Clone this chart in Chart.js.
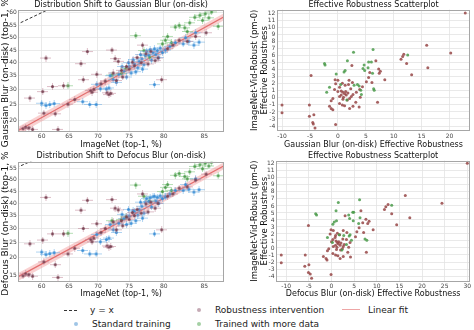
<!DOCTYPE html>
<html>
<head>
<meta charset="utf-8">
<script src="https://cdn.jsdelivr.net/npm/chart.js@4.4.1/dist/chart.umd.min.js"></script>
<style>
  body { margin: 0; background: #fff; width: 474px; height: 330px; position: relative; overflow: hidden;
         font-family: "DejaVu Sans", sans-serif; }
  canvas { position: absolute; }
  .lg { position: absolute; font-size: 9px; color: #222; line-height: 1; white-space: nowrap; transform: translateY(-50%); }
  .dot { position: absolute; width: 4px; height: 4px; border-radius: 50%; transform: translate(-50%, -50%); }
  .ln { position: absolute; height: 0; }
</style>
</head>
<body>
<canvas id="gaussShift" width="230" height="150" style="left:0;top:0"></canvas>
<canvas id="gaussEr" width="234" height="150" style="left:240px;top:0"></canvas>
<canvas id="defocusShift" width="230" height="148" style="left:0;top:151px"></canvas>
<canvas id="defocusEr" width="234" height="148" style="left:240px;top:151px"></canvas>

<div class="ln" style="left:64px;top:310px;width:13px;border-top:1px dashed #333"></div>
<div class="lg" style="left:90px;top:310px">y = x</div>
<div class="dot" style="left:199px;top:310px;background:rgba(150,100,120,0.55)"></div>
<div class="lg" style="left:215px;top:310px">Robustness intervention</div>
<div class="ln" style="left:342px;top:309px;width:18px;border-top:1.5px solid rgba(235,150,150,0.85)"></div>
<div class="lg" style="left:368px;top:310px">Linear fit</div>
<div class="dot" style="left:76px;top:324px;background:rgba(80,150,210,0.55)"></div>
<div class="lg" style="left:92px;top:324px">Standard training</div>
<div class="dot" style="left:199px;top:324px;background:rgba(90,170,90,0.55)"></div>
<div class="lg" style="left:215px;top:324px">Trained with more data</div>

<script>
// ImageNet top-1 (%) and accuracy under each blur shift, per model group
const imagenetStandard = [60.0, 60.8, 61.5, 62.3, 67.4, 68.6, 69.7, 69.8, 70.4, 71.4, 71.8, 72.5, 73.4, 74.2, 74.6, 75.0, 75.3, 75.8, 76.3, 76.5, 76.9, 77.2, 77.4, 77.6, 77.9, 78.1, 78.3, 78.5, 78.7, 78.9, 79.1, 79.3, 79.5, 79.8, 78.7, 80.2, 76.0, 74.9, 73.9, 82.5, 83.2, 83.8, 84.4, 84.0, 82.8, 81.5, 75.6, 76.7, 77.0, 72.0, 73.0, 80.8];
const gaussStandard = [25.3, 24.6, 24.9, 25.2, 25.8, 24.9, 24.9, 31.8, 30.2, 30.1, 30.5, 33.5, 35.5, 36.8, 34.5, 38.5, 36.0, 39.5, 38.0, 40.5, 41.5, 39.2, 42.8, 44.5, 43.0, 45.2, 41.0, 44.0, 45.5, 43.2, 44.8, 42.0, 45.8, 44.0, 31.7, 45.0, 36.5, 40.0, 38.5, 47.5, 48.5, 47.0, 48.2, 52.0, 50.0, 48.0, 41.2, 43.2, 37.5, 35.0, 32.5, 46.5];
const defocusStandard = [21.8, 21.0, 21.3, 21.6, 22.3, 21.2, 21.2, 27.8, 25.2, 26.0, 26.5, 29.5, 32.0, 33.8, 31.5, 34.8, 32.0, 36.5, 35.2, 37.5, 38.8, 36.0, 40.5, 42.0, 40.8, 42.5, 38.5, 42.8, 43.0, 41.0, 42.5, 40.0, 43.2, 42.0, 28.0, 42.8, 33.0, 37.5, 35.5, 45.5, 46.0, 44.8, 45.8, 50.5, 48.0, 45.5, 37.0, 40.5, 34.0, 31.5, 28.5, 44.0];

const imagenetIntervention = [56.5, 57.0, 57.6, 58.3, 57.8, 60.8, 60.2, 60.4, 62.0, 64.0, 63.0, 64.8, 67.1, 68.2, 67.5, 68.8, 69.3, 69.8, 72.3, 72.8, 73.3, 71.5, 71.8, 72.1, 71.2, 72.5, 73.8, 74.6, 75.5, 76.2, 77.0, 77.5, 78.2, 79.7, 79.2, 80.5, 81.2, 82.0, 83.0, 84.0, 74.0, 75.0, 76.8, 78.8, 70.5, 73.0, 85.2, 66.0, 62.5, 69.0, 75.8, 77.8];
const gaussIntervention = [17.8, 18.2, 18.0, 17.6, 27.0, 41.8, 29.2, 22.2, 31.0, 31.3, 17.6, 25.0, 39.6, 44.4, 33.5, 29.6, 30.0, 35.5, 45.0, 41.6, 40.5, 28.8, 28.2, 28.6, 33.0, 36.0, 37.0, 38.5, 40.2, 42.0, 47.0, 43.5, 44.5, 33.5, 41.8, 45.5, 47.0, 49.0, 48.5, 50.5, 34.5, 37.5, 40.0, 40.8, 32.0, 33.2, 52.0, 26.5, 22.0, 29.0, 38.8, 39.5];
const defocusIntervention = [15.0, 15.5, 15.3, 14.9, 24.5, 42.5, 25.8, 18.8, 28.0, 28.0, 14.6, 21.2, 37.2, 41.3, 30.0, 26.0, 26.5, 31.8, 41.6, 38.0, 37.3, 23.8, 23.4, 23.6, 30.0, 32.5, 33.0, 34.5, 36.2, 37.5, 44.0, 39.8, 40.5, 29.5, 40.0, 43.0, 44.0, 46.5, 47.0, 50.0, 31.0, 33.5, 36.0, 38.0, 28.5, 29.5, 52.5, 23.0, 18.0, 25.2, 35.0, 36.5];

const imagenetMoreData = [64.8, 72.3, 76.0, 80.5, 81.5, 82.0, 82.7, 83.3, 83.9, 84.5, 85.1, 85.8, 84.8, 86.5, 79.8, 80.2, 81.0, 78.0, 74.5, 73.8, 83.0, 85.5, 77.2];
const gaussMoreData = [31.3, 35.2, 50.8, 50.5, 54.3, 55.0, 54.0, 56.0, 58.2, 59.0, 59.6, 60.3, 57.0, 54.6, 47.5, 49.0, 48.0, 42.2, 37.8, 35.8, 52.5, 58.0, 44.8];
const defocusMoreData = [28.2, 33.0, 47.8, 48.0, 52.0, 52.8, 51.5, 53.5, 55.8, 56.5, 57.2, 57.6, 54.8, 51.8, 45.0, 46.8, 45.5, 41.0, 34.5, 33.5, 50.5, 56.0, 43.0];

// linear fit (straight in probit space) and its confidence band, end points
const fitImagenet = [55.6, 87.1];
const gaussFit = [17.3, 58.4];
const gaussBandLow = [16.3, 57.0];
const gaussBandHigh = [18.3, 59.8];
const defocusFit = [14.8, 56.1];
const defocusBandLow = [13.8, 54.6];
const defocusBandHigh = [15.7, 57.6];
const identityLine = [50, 65];

// effective robustness: ImageNet-Vid-Robust (pm-0) vs each blur shift
const vidRobustIntervention = [12.1, 7.5, 6.4, 4.3, 3.3, 5.5, 5.9, 6.2, 4.9, -1.0, -2.1, -1.0, -2.6, -2.4, -3.5, -3.7, -4.3, 3.2, -3.8, 5.3, 4.1, 3.8, 3.5, 2.6, -0.6, 3.6, 2.9, 2.3, 4.6, 2.6, 2.5, 2.5, 2.2, 1.9, 2.0, 1.2, 1.5, 1.0, 0.8, 0.6, 0.4, 0.2, -0.2, -0.3, -0.1, 0.2, 0.5, -0.1, -0.4, -1.2, -1.5, -1.7, -0.8, -1.0, -1.1, -1.5, -1.2, -0.6, -1.3, 0.1, 0.1, 0.4, 0.9, 0.7, 0.9, 1.3, 0.8, 2.2, 2.1, 1.8, 1.6, 1.2];
const gaussErIntervention = [22.8, 15.9, 20.2, 16.1, 13.2, 11.3, 11.6, 11.8, 12.3, -10.0, -10.0, -5.1, -5.1, -4.3, -4.5, -4.4, -4.1, -4.8, -0.4, 6.8, 7.3, 7.6, 7.4, 8.4, 7.1, 5.7, 5.5, 5.1, 2.5, -0.5, 0.0, 2.0, 2.6, 1.9, -0.4, -0.6, 0.3, 0.6, 0.9, 1.2, 1.5, 0.3, 0.9, 1.7, 2.1, 2.4, 2.7, -0.9, -1.2, -1.5, -1.2, -0.9, 0.3, 0.8, 1.2, 2.1, 2.7, 3.2, 3.8, 4.0, 1.0, 0.6, 1.4, 1.8, 0.0, 2.3, 3.3, 6.1, 0.8, 1.3, 4.4, 3.9];
const defocusErIntervention = [30.0, 16.3, 24.4, 17.3, 14.4, 11.7, 12.0, 12.5, 13.3, -11.1, -11.1, -5.8, -5.9, -5.0, -5.1, -4.7, -4.4, -5.1, -0.1, 6.5, 7.6, 8.3, 8.0, 9.2, 7.7, 6.9, 6.1, 5.6, 3.0, -0.1, 0.4, 2.6, 3.4, 1.8, -0.3, 0.3, 0.8, 1.0, 1.3, 1.5, 1.9, 0.4, 1.1, 2.0, 2.4, 2.6, 2.8, -0.6, -0.9, -1.8, -1.2, -1.0, 0.3, 0.9, 1.4, 1.9, 2.6, 3.6, 4.2, 3.8, 1.2, 0.9, 1.6, 2.1, 0.0, 2.5, 4.1, 7.1, 1.3, 0.9, 5.3, 3.3];

const vidRobustMoreData = [4.9, 4.7, 6.5, 6.9, 5.3, 4.7, 5.1, 5.1, 4.2, 3.9, 3.7, 3.9, 3.5, 1.9, 1.7, 1.1, 1.5, 0.8, 1.3, 1.1, 6.1, -0.3, 3.4, 1.8, 4.3, 0.5, 1.9];
const gaussErMoreData = [-2.4, -2.3, 2.8, 6.3, 1.7, 4.7, 5.5, 6.0, 4.5, 4.8, 1.1, 1.3, 6.2, 3.5, 3.8, 4.1, -1.5, -2.0, 6.4, 6.5, 12.5, 1.6, -0.3, 2.9, 5.4, 4.2, 0.5];
const defocusErMoreData = [-3.5, -3.3, 1.5, 6.2, 1.0, 3.8, 4.7, 4.9, 4.0, 4.8, 0.6, 1.1, 6.0, 4.1, 3.9, 4.4, -0.9, 0.2, 7.4, 7.8, 13.3, 2.3, 0.3, 2.7, 6.3, 3.3, 1.7];

// tick labels
const imagenetTicks = [60, 65, 70, 75, 80, 85];
const gaussTicks = [20, 25, 30, 35, 40, 45, 50, 55, 60];
const defocusTicks = [15, 20, 25, 30, 35, 40, 45, 50, 55];
const gaussErTicks = [-10, -5, 0, 5, 10, 15, 20];
const defocusErTicks = [-10, -5, 0, 5, 10, 15, 20, 25, 30];
const vidRobustTicks = [-4, -3, -2, -1, 0, 1, 2, 3, 4, 5, 6, 7, 8, 9, 10, 11, 12];

// inverse normal CDF (Acklam)
function probit(p) {
  const a = [-39.69683028665376, 220.9460984245205, -275.9285104469687, 138.3577518672690, -30.66479806614716, 2.506628277459239];
  const b = [-54.47609879822406, 161.5858368580409, -155.6989798598866, 66.80131188771972, -13.28068155288572];
  const c = [-0.007784894002430293, -0.3223964580411365, -2.400758277161838, -2.549732539343734, 4.374664141464968, 2.938163982698783];
  const d = [0.007784695709041462, 0.3224671290700398, 2.445134137142996, 3.754408661907416];
  if (p < 0.02425 || p > 0.97575) {
    const q = Math.sqrt(-2 * Math.log(p < 0.5 ? p : 1 - p));
    const v = (((((c[0] * q + c[1]) * q + c[2]) * q + c[3]) * q + c[4]) * q + c[5]) /
              ((((d[0] * q + d[1]) * q + d[2]) * q + d[3]) * q + 1);
    return p < 0.5 ? v : -v;
  }
  const q = p - 0.5, r = q * q;
  return (((((a[0] * r + a[1]) * r + a[2]) * r + a[3]) * r + a[4]) * r + a[5]) * q /
         (((((b[0] * r + b[1]) * r + b[2]) * r + b[3]) * r + b[4]) * r + 1);
}

function normCdf(z) {
  const t = 1 / (1 + 0.3275911 * Math.abs(z) / Math.SQRT2);
  const y = 1 - (((((1.061405429 * t - 1.453152027) * t) + 1.421413741) * t - 0.284496736) * t + 0.254829592) * t * Math.exp(-z * z / 2);
  return z >= 0 ? (1 + y) / 2 : (1 - y) / 2;
}

// percent axis spaced on the probit scale
class ProbitScale extends Chart.LinearScale {
  configure() {
    super.configure();
    this._pStart = probit(this.min / 100);
    this._pRange = probit(this.max / 100) - this._pStart;
  }
  getPixelForValue(value) {
    return this.getPixelForDecimal((probit(value / 100) - this._pStart) / this._pRange);
  }
  getValueForPixel(pixel) {
    return 100 * normCdf(this._pStart + this.getDecimalForPixel(pixel) * this._pRange);
  }
}
ProbitScale.id = 'probit';
ProbitScale.defaults = Chart.LinearScale.defaults;
Chart.register(ProbitScale);

Chart.defaults.font.family = '"DejaVu Sans", sans-serif';
Chart.defaults.color = '#222';

const frame = {
  id: 'frame',
  afterDatasetsDraw(chart) {
    const { ctx, chartArea: a } = chart;
    ctx.save();
    ctx.strokeStyle = '#a6a6a6';
    ctx.lineWidth = 1;
    ctx.strokeRect(Math.round(a.left) + 0.5, Math.round(a.top) + 0.5,
                   Math.round(a.right - a.left) - 1, Math.round(a.bottom - a.top) - 1);
    ctx.restore();
  }
};

// dot with light error bars
function crossMarker(dot, bar) {
  const c = document.createElement('canvas');
  c.width = 11;
  c.height = 7;
  const g = c.getContext('2d');
  g.strokeStyle = bar;
  g.lineWidth = 1;
  g.beginPath();
  g.moveTo(0, 3.5); g.lineTo(11, 3.5);
  g.moveTo(5.5, 0); g.lineTo(5.5, 7);
  g.stroke();
  g.fillStyle = dot;
  g.beginPath();
  g.arc(5.5, 3.5, 1.5, 0, Math.PI * 2);
  g.fill();
  return c;
}

const markers = {
  standard: crossMarker('#3d8fd6', 'rgba(110,175,230,0.55)'),
  intervention: crossMarker('#7a4656', 'rgba(190,125,145,0.5)'),
  moreData: crossMarker('#4f9d4f', 'rgba(120,195,120,0.55)')
};

const zip = (xs, ys) => xs.map((x, i) => ({ x, y: ys[i] }));
const useTicks = values => scale => { scale.ticks = values.map(v => ({ value: v })); };
const grid = { color: '#e3e3e3', lineWidth: 0.8, drawTicks: false };
const tickFont = pad => ({ font: { size: 6 }, color: '#444', padding: pad, autoSkip: false, maxRotation: 0, callback: v => String(v) });

function shiftChart(id, cfg) {
  const pts = (xs, ys, marker) => ({ data: zip(xs, ys), pointStyle: marker, pointRadius: 3, order: 1 });
  return new Chart(document.getElementById(id), {
    type: 'scatter',
    data: {
      datasets: [
        pts(imagenetIntervention, cfg.intervention, markers.intervention),
        pts(imagenetStandard, cfg.standard, markers.standard),
        pts(imagenetMoreData, cfg.moreData, markers.moreData),
        { type: 'line', data: zip(fitImagenet, cfg.fit), borderColor: '#e46f6f', borderWidth: 1.2, pointRadius: 0, order: 2 },
        { type: 'line', data: zip(fitImagenet, cfg.bandHigh), borderColor: 'rgba(0,0,0,0)', borderWidth: 0, pointRadius: 0,
          fill: '+1', backgroundColor: 'rgba(240,140,140,0.4)', order: 3 },
        { type: 'line', data: zip(fitImagenet, cfg.bandLow), borderColor: 'rgba(0,0,0,0)', borderWidth: 0, pointRadius: 0, order: 3 },
        { type: 'line', data: zip(identityLine, identityLine), borderColor: '#333', borderWidth: 1, borderDash: [3, 2], pointRadius: 0, order: 4 }
      ]
    },
    options: {
      responsive: false,
      animation: false,
      events: [],
      layout: { padding: { left: 0, right: 6, top: 0, bottom: 0 } },
      plugins: {
        legend: { display: false },
        tooltip: { enabled: false },
        title: { display: true, text: cfg.title, fullSize: false, font: { size: 8, weight: 'normal' }, color: '#111', padding: cfg.titlePad }
      },
      scales: {
        x: {
          type: 'probit', min: 55.6, max: 87.1, bounds: 'data',
          afterBuildTicks: useTicks(imagenetTicks),
          afterFit: s => { s.height = cfg.xHeight; },
          grid, border: { display: false }, ticks: tickFont(1),
          title: { display: true, text: 'ImageNet (top-1, %)', font: { size: 8 }, color: '#111', padding: 0 }
        },
        y: {
          type: 'probit', min: cfg.yMin, max: cfg.yMax, bounds: 'data',
          afterBuildTicks: useTicks(cfg.yTicks),
          afterFit: s => { s.width = 18.3; },
          grid, border: { display: false }, ticks: tickFont(1.5),
          title: { display: true, text: cfg.yTitle, font: { size: 9 }, color: '#111', padding: { top: 0.5, bottom: 0 } }
        }
      }
    },
    plugins: [frame]
  });
}

function robustnessChart(id, cfg) {
  return new Chart(document.getElementById(id), {
    type: 'scatter',
    data: {
      datasets: [
        { data: zip(cfg.moreDataX, vidRobustMoreData), backgroundColor: 'rgba(75,155,75,0.85)', pointRadius: 1.5, pointBorderWidth: 0 },
        { data: zip(cfg.interventionX, vidRobustIntervention), backgroundColor: 'rgba(150,70,70,0.85)', pointRadius: 1.5, pointBorderWidth: 0 }
      ]
    },
    options: {
      responsive: false,
      animation: false,
      events: [],
      layout: { padding: { left: 0, right: 2, top: 0, bottom: 0 } },
      plugins: {
        legend: { display: false },
        tooltip: { enabled: false },
        title: { display: true, text: 'Effective Robustness Scatterplot', fullSize: false, font: { size: 8, weight: 'normal' }, color: '#111', padding: 0 }
      },
      scales: {
        x: {
          type: 'linear', min: cfg.xMin, max: cfg.xMax,
          afterBuildTicks: useTicks(cfg.xTicks),
          afterFit: s => { s.height = cfg.xHeight; },
          grid, border: { display: false }, ticks: tickFont(1.5),
          title: { display: true, text: cfg.xTitle, font: { size: 8 }, color: '#111', padding: 0 }
        },
        y: {
          type: 'linear', min: cfg.yMin, max: cfg.yMax,
          afterBuildTicks: useTicks(vidRobustTicks),
          afterFit: s => { s.width = cfg.yWidth; },
          grid, border: { display: false }, ticks: tickFont(1.7),
          title: { display: true, text: ['ImageNet-Vid-Robust (pm-0)', 'Effective Robustness'], font: { size: 8.5 }, color: '#111', padding: { top: 9.4, bottom: 0 } }
        }
      }
    },
    plugins: [frame]
  });
}

shiftChart('gaussShift', {
  title: 'Distribution Shift to Gaussian Blur (on-disk)',
  titlePad: { top: 0.4, bottom: 0 },
  yTitle: 'Gaussian Blur (on-disk) (top-1, %)',
  yMin: 17.0, yMax: 61.05, yTicks: gaussTicks, xHeight: 18.3,
  standard: gaussStandard, intervention: gaussIntervention, moreData: gaussMoreData,
  fit: gaussFit, bandLow: gaussBandLow, bandHigh: gaussBandHigh
});

shiftChart('defocusShift', {
  title: 'Distribution Shift to Defocus Blur (on-disk)',
  titlePad: { top: 0, bottom: 1.1 },
  yTitle: 'Defocus Blur (on-disk) (top-1, %)',
  yMin: 13.5, yMax: 57.8, yTicks: defocusTicks, xHeight: 17,
  standard: defocusStandard, intervention: defocusIntervention, moreData: defocusMoreData,
  fit: defocusFit, bandLow: defocusBandLow, bandHigh: defocusBandHigh
});

robustnessChart('gaussEr', {
  xTitle: 'Gaussian Blur (on-disk) Effective Robustness',
  interventionX: gaussErIntervention, moreDataX: gaussErMoreData,
  xMin: -10.9, xMax: 23.65, xTicks: gaussErTicks,
  yMin: -4.71, yMax: 12.57, xHeight: 19, yWidth: 37
});

robustnessChart('defocusEr', {
  xTitle: 'Defocus Blur (on-disk) Effective Robustness',
  interventionX: defocusErIntervention, moreDataX: defocusErMoreData,
  xMin: -12.2, xMax: 30.6, xTicks: defocusErTicks,
  yMin: -4.81, yMax: 12.47, xHeight: 17.3, yWidth: 36.3
});
</script>
</body>
</html>
